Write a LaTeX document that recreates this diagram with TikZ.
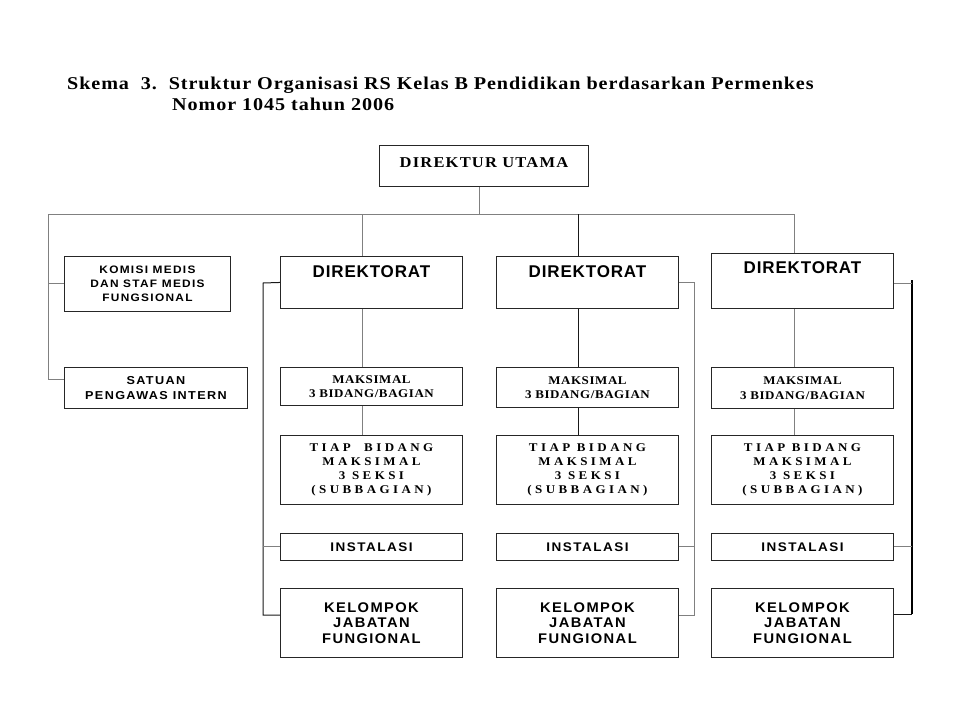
\documentclass[tikz,border=0pt]{standalone}
\usepackage{fontspec}
\setmainfont{Liberation Serif}
\newfontfamily\titlefont[FakeStretch=1.12, LetterSpace=5]{Liberation Serif}
\newfontfamily\duFont[FakeStretch=1.1, LetterSpace=8]{Liberation Serif}
\newfontfamily\maksFont[FakeStretch=1.1, LetterSpace=5]{Liberation Serif}
\newfontfamily\tiapFont[FakeStretch=1.1, LetterSpace=29]{Liberation Serif}
\newfontfamily\dirFont[LetterSpace=5]{Liberation Sans}
\newfontfamily\komFont[FakeStretch=1.1, LetterSpace=12]{Liberation Sans}
\newfontfamily\insFont[FakeStretch=1.08, LetterSpace=12]{Liberation Sans}
\newfontfamily\kelFont[FakeStretch=1.05, LetterSpace=10]{Liberation Sans}
\tikzset{
  box/.style={draw=black!85, line width=0.9pt, inner sep=0pt, align=center, anchor=north west, minimum width=182pt},
  conn/.style={draw=black!50, line width=1pt},
  connk/.style={draw=black!90, line width=1pt},
  connthick/.style={draw=black, line width=2pt},
}
\begin{document}
\begin{tikzpicture}[x=1pt,y=-1pt]
\useasboundingbox (0,0) rectangle (960,720);
% title
\node[anchor=base west, inner sep=0pt] (title1) at (67,89) {\titlefont\bfseries\fontsize{18}{21}\selectfont Skema\ \ 3.\ \ Struktur Organisasi RS Kelas B Pendidikan berdasarkan Permenkes};
\node[anchor=base west, inner sep=0pt] (title2) at (172,110) {\titlefont\bfseries\fontsize{18}{21}\selectfont Nomor 1045 tahun 2006};
% top
\node[box, minimum width=209pt, text height=22pt, text depth=19pt, font=\duFont\bfseries\fontsize{15}{18}\selectfont] (du) at (379,145) {DIREKTUR UTAMA};
\node[box, minimum width=166pt, minimum height=55pt, font=\komFont\bfseries\fontsize{10.8}{14.3}\selectfont] (kom) at (64,256) {KOMISI MEDIS\\DAN STAF MEDIS\\FUNGSIONAL};
\node[box, minimum width=183pt, minimum height=41pt, font=\komFont\bfseries\fontsize{11.5}{15}\selectfont] (sat) at (64,367) {SATUAN\\PENGAWAS INTERN};
% directorates
\tikzset{dirbox/.style={box, font=\dirFont\bfseries\fontsize{17}{20}\selectfont}}
\node[dirbox, text height=21pt, text depth=31pt] (dir1) at (280,256) {DIREKTORAT};
\node[dirbox, text height=21pt, text depth=31pt] (dir2) at (496,256) {DIREKTORAT};
\node[dirbox, text height=20pt, text depth=35pt] (dir3) at (711,253) {DIREKTORAT};
% maksimal
\tikzset{maksbox/.style={box, font=\maksFont\bfseries\fontsize{11.8}{14.5}\selectfont}}
\node[maksbox, minimum height=38pt] (maks1) at (280,367) {MAKSIMAL\\3 BIDANG/BAGIAN};
\node[maksbox, minimum height=40pt] (maks2) at (496,367) {MAKSIMAL\\3 BIDANG/BAGIAN};
\node[maksbox, minimum height=41pt] (maks3) at (711,367) {MAKSIMAL\\3 BIDANG/BAGIAN};
% tiap
\tikzset{tiapbox/.style={box, minimum height=69pt, font=\tiapFont\bfseries\fontsize{11.8}{14}\selectfont}}
\node[tiapbox] (tiap1) at (280,435) {TIAP\ \ BIDANG\\MAKSIMAL\\3 SEKSI\\(SUBBAGIAN)};
\node[tiapbox] (tiap2) at (496,435) {TIAP BIDANG\\MAKSIMAL\\3 SEKSI\\(SUBBAGIAN)};
\node[tiapbox] (tiap3) at (711,435) {TIAP BIDANG\\MAKSIMAL\\3 SEKSI\\(SUBBAGIAN)};
% instalasi
\tikzset{insbox/.style={box, minimum height=27pt, font=\insFont\bfseries\fontsize{12.5}{15}\selectfont}}
\node[insbox] (ins1) at (280,533) {INSTALASI};
\node[insbox] (ins2) at (496,533) {INSTALASI};
\node[insbox] (ins3) at (711,533) {INSTALASI};
% kelompok
\tikzset{kelbox/.style={box, minimum height=69pt, font=\kelFont\bfseries\fontsize{14}{15.5}\selectfont}}
\node[kelbox] (kel1) at (280,588) {KELOMPOK\\JABATAN\\FUNGIONAL};
\node[kelbox] (kel2) at (496,588) {KELOMPOK\\JABATAN\\FUNGIONAL};
\node[kelbox] (kel3) at (711,588) {KELOMPOK\\JABATAN\\FUNGIONAL};
% coordinates
\coordinate (hub) at (479,214);
\coordinate (busL) at (48,214);
\coordinate (busR) at (794,214);
\coordinate (s1) at (263,283);
\coordinate (s1b) at (263,615);
\coordinate (s2b) at (694,615);
\coordinate (s3t) at (912,280);
\coordinate (s3b) at (912,614);
% connectors top
\draw[conn] (du.south -| hub) -- (hub);
\draw[conn] (busL) -- (busR);
\draw[conn] (busL) |- ([yshift=8.5pt]sat.west);
\draw[conn] (busL |- kom.west) -- (kom.west);
\draw[conn] ([xshift=-8.5pt]dir1.north |- busL) -- ([xshift=-8.5pt]dir1.north);
\draw[connk] ([xshift=-9pt]dir2.north |- busL) -- ([xshift=-9pt]dir2.north);
\draw[conn] (busR) -- (busR |- dir3.north);
% columns vertical
\draw[conn] ([xshift=-8.5pt]dir1.south) -- ([xshift=-8.5pt]maks1.north);
\draw[conn] ([xshift=-8.5pt]maks1.south) -- ([xshift=-8.5pt]tiap1.north);
\draw[connk] ([xshift=-9pt]dir2.south) -- ([xshift=-9pt]maks2.north);
\draw[connk] ([xshift=-9pt]maks2.south) -- ([xshift=-9pt]tiap2.north);
\draw[conn] ([xshift=-8pt]dir3.south) -- ([xshift=-8pt]maks3.north);
\draw[conn] ([xshift=-8pt]maks3.south) -- ([xshift=-8pt]tiap3.north);
% side lines
\draw[connk] (dir1.west) -- (s1) -- (s1b) -- (s1b -| kel1.west);
\draw[conn] (ins1.west) -- (ins1.west -| s1);
\draw[conn] (dir2.east) -| (s2b) -- (s2b -| kel2.east);
\draw[conn] (ins2.east) -- (ins2.east -| s2b);
\draw[connthick] (s3t) -- (s3b);
\draw[conn] (dir3.east |- 0,283) -- (s3t |- 0,283);
\draw[conn] (ins3.east) -- (ins3.east -| s3t);
\draw[connk] (s3b -| kel3.east) -- (s3b);
\end{tikzpicture}
\end{document}
